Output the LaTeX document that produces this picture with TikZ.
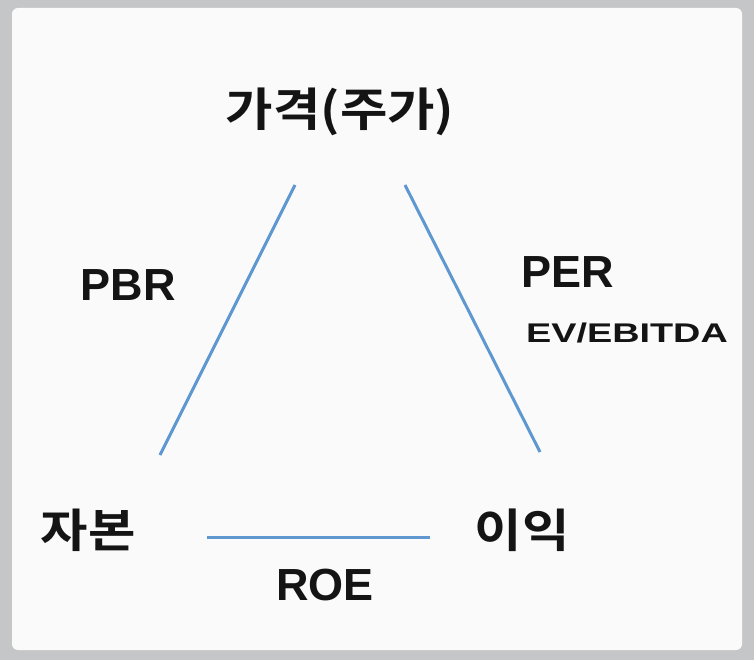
\documentclass[tikz,border=0pt]{standalone}
\usepackage{fontspec}
\setmainfont{Liberation Sans}
\newfontfamily\kr{Noto Sans CJK KR}[BoldFont={* Bold}]
\definecolor{frame}{RGB}{196,198,200}
\definecolor{paper}{RGB}{250,250,250}
\definecolor{edge}{RGB}{95,152,208}
\definecolor{ink}{RGB}{20,20,20}
\begin{document}
\begin{tikzpicture}[x=1pt,y=-1pt,
  klbl/.style={font=\kr\bfseries\fontsize{46}{50}\selectfont,text=ink,inner sep=0pt,xscale=1.12},
  lbl/.style={font=\bfseries\fontsize{45}{50}\selectfont,text=ink,inner sep=0pt},
  small/.style={font=\bfseries\fontsize{27}{30}\selectfont,text=ink,inner sep=0pt,xscale=1.4},
  link/.style={draw=edge,line width=3pt}]
\fill[frame] (0,0) rectangle (754,660);
\fill[paper,rounded corners=6pt] (12,8) rectangle (742,650);
\useasboundingbox (0,0) rectangle (754,660);
\node[klbl] (price) at (340,112) {가격(주가)};
\node[lbl] (pbr) at (128,285) {PBR};
\node[lbl] (per) at (568,272) {PER};
\node[small] (ev) at (627,333) {EV/EBITDA};
\node[klbl] (cap) at (88,530) {자본};
\node[klbl] (earn) at (522,530) {이익};
\node[lbl] (roe) at (325,585) {ROE};
\coordinate (a1) at (295,185); \coordinate (a2) at (160,455);
\coordinate (b1) at (405,185); \coordinate (b2) at (540,452);
\coordinate (c1) at (207,537); \coordinate (c2) at (430,537);
\draw[link] (a1) -- (a2);
\draw[link] (b1) -- (b2);
\draw[link] (c1) -- (c2);
\end{tikzpicture}
\end{document}
